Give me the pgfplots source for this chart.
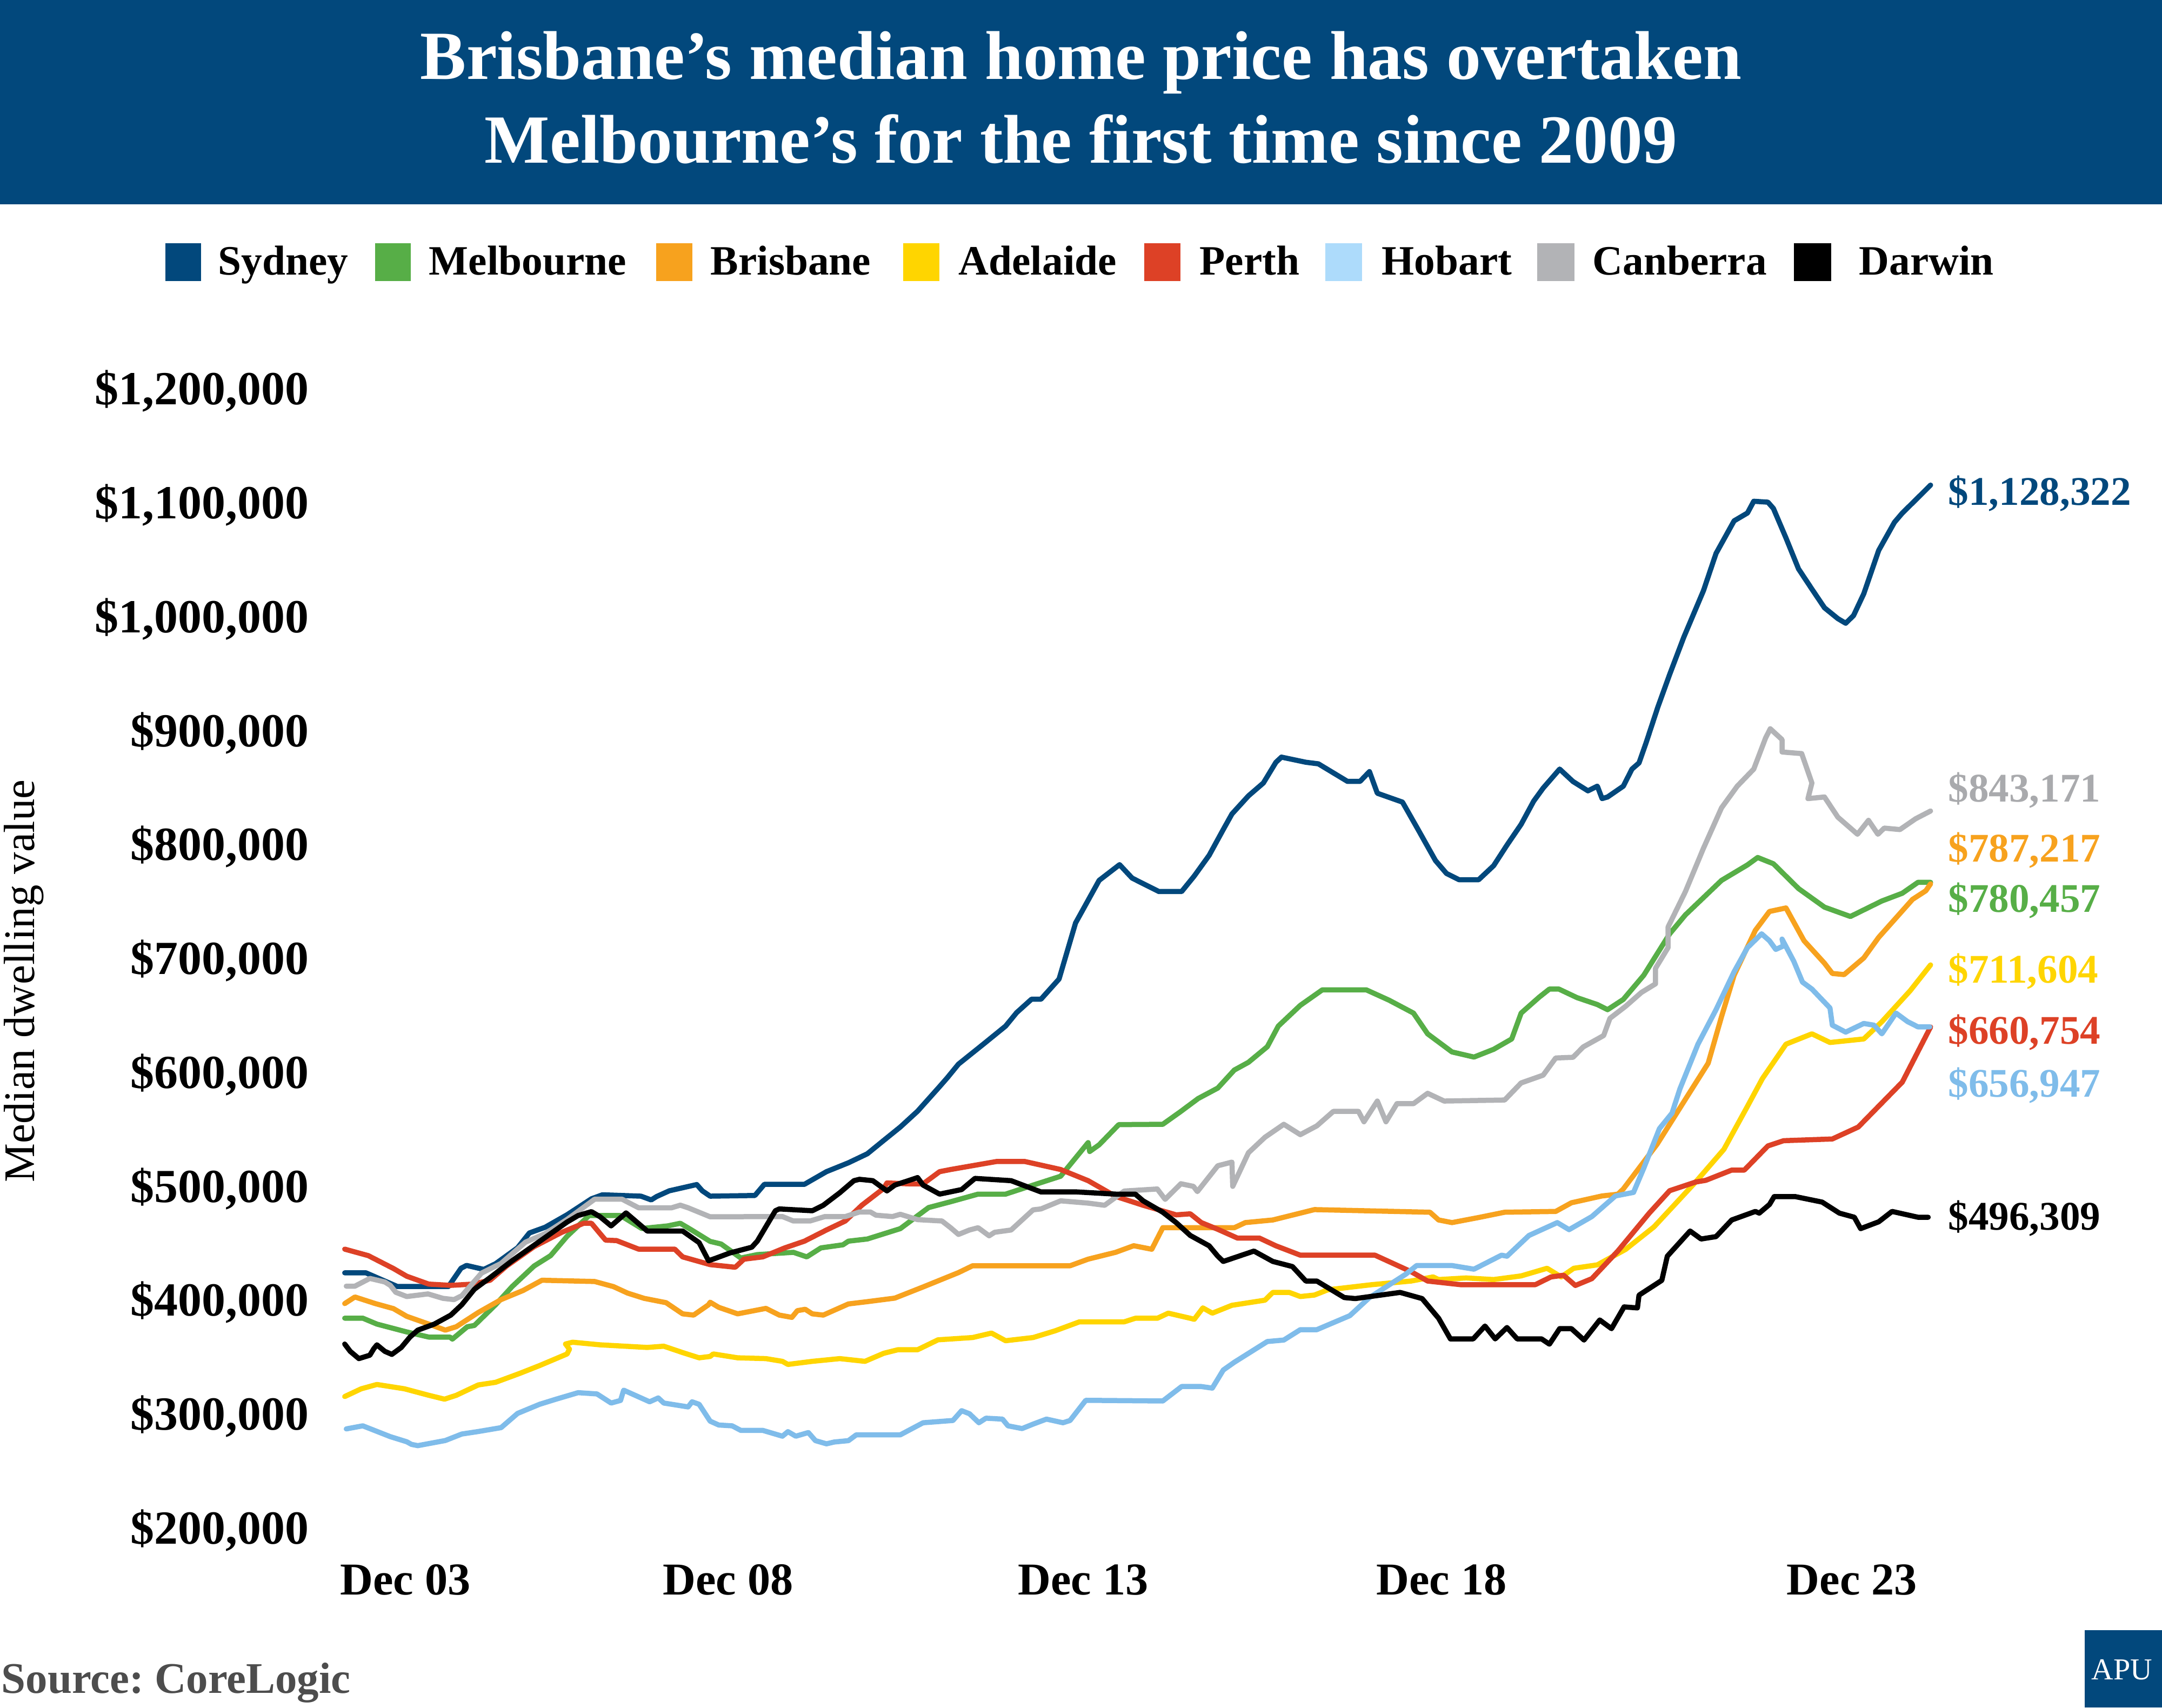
\documentclass[border=0pt]{standalone}
\usepackage{fontspec}
\setmainfont{Liberation Serif}
\usepackage{pgfplots}
\pgfplotsset{compat=1.18}
\definecolor{cSyd}{RGB}{2,72,124}
\definecolor{cMel}{RGB}{87,174,71}
\definecolor{cBri}{RGB}{247,162,30}
\definecolor{cAde}{RGB}{255,213,0}
\definecolor{cPer}{RGB}{221,65,38}
\definecolor{cHob}{RGB}{127,188,234}
\definecolor{cHobLeg}{RGB}{173,219,251}
\definecolor{cCan}{RGB}{178,179,182}
\definecolor{cCanTxt}{RGB}{169,170,173}
\definecolor{cDar}{RGB}{0,0,0}
\definecolor{srcgray}{RGB}{77,77,77}
\begin{document}
\frenchspacing
\begin{tikzpicture}[x=1mm,y=1mm]
\useasboundingbox (0,0) rectangle (400,315.9);
\fill[white] (0,0) rectangle (400,315.9);
\fill[cSyd] (0,278.1) rectangle (400,315.9);
\node[anchor=base,inner sep=0,text=white,font=\bfseries\fontsize{36.3}{40}\selectfont] at (200,301.2) {Brisbane’s median home price has overtaken};
\node[anchor=base,inner sep=0,text=white,font=\bfseries\fontsize{36.3}{40}\selectfont] at (200,285.7) {Melbourne’s for the first time since 2009};
% legend
\begin{scope}[every node/.style={anchor=base west,inner sep=0,font=\bfseries\fontsize{22}{26}\selectfont}]
\fill[cSyd] (30.6,263.9) rectangle (37.2,270.9); \node at (40.3,265.0) {Sydney};
\fill[cMel] (69.4,263.9) rectangle (76.0,270.9); \node at (79.3,265.0) {Melbourne};
\fill[cBri] (121.4,263.9) rectangle (128.1,270.9); \node at (131.4,265.0) {Brisbane};
\fill[cAde] (167.1,263.9) rectangle (173.8,270.9); \node at (177.3,265.0) {Adelaide};
\fill[cPer] (211.7,263.9) rectangle (218.4,270.9); \node at (221.9,265.0) {Perth};
\fill[cHobLeg] (245.2,263.9) rectangle (252.0,270.9); \node at (255.6,265.0) {Hobart};
\fill[cCan] (284.4,263.9) rectangle (291.3,270.9); \node at (294.6,265.0) {Canberra};
\fill[cDar] (331.9,263.9) rectangle (338.8,270.9); \node at (343.9,265.0) {Darwin};
\end{scope}
\node[rotate=90,anchor=base,inner sep=0,font=\fontsize{23}{27}\selectfont] at (6.3,134.4) {Median dwelling value};
\node[anchor=base west,inner sep=0,text=srcgray,font=\bfseries\fontsize{23}{27}\selectfont] at (0.2,2.7) {Source: CoreLogic};
\fill[cSyd] (385.7,0) rectangle (400,14.3);
\node[anchor=base,inner sep=0,text=white,font=\fontsize{16}{19}\selectfont] at (392.6,5.2) {APU};
\begin{axis}[at={(63.775mm,33.2mm)}, anchor=south west, scale only axis,
  width=293.4mm, height=210.76mm,
  xmin=0, xmax=20.18, ymin=200, ymax=1200, enlargelimits=false,
  axis line style={draw=none}, major tick length=0pt, clip=false,
  ytick={200,300,400,500,600,700,800,900,1000,1100,1200},
  yticklabels={{\$200,000},{\$300,000},{\$400,000},{\$500,000},{\$600,000},{\$700,000},{\$800,000},{\$900,000},{\$1,000,000},{\$1,100,000},{\$1,200,000}},
  yticklabel style={anchor=base east, inner sep=0pt, xshift=-6.6mm, yshift=-8.4pt, font=\bfseries\fontsize{25}{30}\selectfont},
  xtick={0.772,4.878,9.397,13.956,19.18},
  xticklabels={Dec 03,Dec 08,Dec 13,Dec 18,Dec 23},
  xticklabel style={anchor=base, inner sep=0pt, yshift=-12.3mm, font=\bfseries\fontsize{24}{28}\selectfont},
  every axis plot/.append style={line width=0.95mm, line join=round, line cap=round, no markers}]
% Sydney
\addplot[cSyd] coordinates {(0.0,424) (0.27,424) (0.67,412) (1.32,412) (1.40,420) (1.48,428) (1.55,430.5) (1.77,427) (1.92,432) (2.20,446) (2.35,459) (2.55,464) (2.83,475) (3.14,489) (3.28,492.5) (3.77,491.3) (3.90,488) (3.97,491) (4.13,496) (4.48,501.5) (4.55,496) (4.65,491.3) (5.22,491.9) (5.34,501.7) (5.85,501.7) (6.13,512.8) (6.41,520.6) (6.65,528.5) (6.86,540.3) (7.07,552) (7.29,565.9) (7.57,587.5) (7.67,595.4) (7.81,607.2) (8.13,624.9) (8.41,640.6) (8.55,652.4) (8.74,664.2) (8.86,664.2) (9.09,681.9) (9.30,731.1) (9.60,768.5) (9.86,782.3) (10.02,770.5) (10.36,758.7) (10.65,758.7) (10.81,772.3) (11.0,790.5) (11.18,813.2) (11.29,826.8) (11.5,842.7) (11.69,854) (11.85,872.2) (11.92,876.7) (12.23,872.2) (12.39,870.8) (12.76,855.4) (12.92,855.4) (13.04,864) (13.14,845) (13.46,837.2) (13.64,815.4) (13.88,785.9) (14.02,774.6) (14.18,769.1) (14.43,769.1) (14.62,781.4) (14.79,799.5) (14.97,817.7) (15.13,838.1) (15.25,849.5) (15.46,866.2) (15.63,855.3) (15.82,847.1) (15.94,851.2) (16.0,840.3) (16.07,841.7) (16.27,851.2) (16.38,866.2) (16.47,871.6) (16.56,889.3) (16.71,920.7) (16.86,949.3) (17.04,982) (17.29,1022.8) (17.45,1055.5) (17.68,1084.1) (17.85,1091) (17.93,1101.3) (18.11,1100.5) (18.18,1095) (18.34,1069.1) (18.5,1041.9) (18.67,1024.2) (18.83,1007.8) (19.0,998.3) (19.1,994.2) (19.2,1001) (19.33,1020.1) (19.52,1058.2) (19.72,1082.8) (19.82,1090.9) (20.02,1104.5) (20.18,1115.5)};
% Melbourne
\addplot[cMel] coordinates {(0.0,384.2) (0.23,384.2) (0.41,379) (0.79,372.1) (1.07,367.6) (1.34,367.6) (1.37,365.8) (1.56,376.7) (1.65,377.8) (1.92,396) (2.13,411.9) (2.41,430) (2.62,439.1) (2.83,456.1) (3.11,474.3) (3.51,474.3) (3.78,462.9) (4.11,465.2) (4.27,467.5) (4.41,461.8) (4.65,451.6) (4.79,449.3) (5.04,437) (5.25,440) (5.71,442) (5.88,438) (6.06,445.9) (6.34,448.6) (6.41,451.8) (6.65,453.7) (7.07,462.8) (7.43,481.3) (7.71,486.4) (8.06,493.1) (8.41,493.1) (8.76,501) (9.11,508.8) (9.46,538.3) (9.48,530.5) (9.6,536.4) (9.85,554.1) (10.41,554.4) (10.64,565.7) (10.86,577) (11.11,586.2) (11.32,602) (11.5,608.8) (11.74,622.5) (11.88,640.6) (12.16,658.8) (12.44,672.4) (13.0,672.4) (13.29,663.3) (13.6,652) (13.78,633.8) (14.09,617.9) (14.37,613.4) (14.62,620.2) (14.85,629.3) (14.97,652) (15.2,666) (15.33,673.1) (15.45,673.1) (15.68,665.6) (15.94,659.5) (16.07,655) (16.27,664) (16.53,685.2) (16.86,721.6) (17.06,738.2) (17.52,768.5) (17.85,782.1) (17.98,788.6) (18.18,783.1) (18.5,761.3) (18.83,745) (19.16,736.8) (19.56,750.4) (19.82,757.2) (20.02,766.8) (20.18,766.8)};
% Brisbane
\addplot[cBri] coordinates {(0.0,397) (0.13,402.8) (0.39,397) (0.62,392.6) (0.79,385.8) (1.07,379) (1.28,373.7) (1.42,376.7) (1.7,389.2) (1.99,400.5) (2.27,408.5) (2.51,417.5) (3.18,416.4) (3.42,411.9) (3.6,406.2) (3.81,401.6) (4.09,397.8) (4.3,388) (4.44,386.9) (4.63,396) (4.65,398.2) (4.76,393.7) (5.0,388) (5.36,392.8) (5.53,386.9) (5.69,384.9) (5.76,390.8) (5.86,392) (5.95,388) (6.09,386.9) (6.41,396.7) (6.65,398.7) (7.0,401.8) (7.36,411.6) (7.81,424.2) (7.99,430.2) (9.23,430.2) (9.46,436) (9.81,442) (10.04,447.8) (10.27,444.7) (10.41,463.6) (11.32,463.6) (11.46,468.1) (11.81,470.4) (12.34,479.5) (13.81,477.2) (13.92,470.4) (14.09,468.1) (14.44,472.7) (14.76,477.2) (15.41,477.9) (15.61,485.5) (16.0,491.5) (16.2,493) (16.27,497.6) (16.7,536.9) (17.06,576.3) (17.35,608) (17.52,648.9) (17.68,685.2) (17.95,724.6) (18.13,741.2) (18.34,744.3) (18.57,715.5) (18.83,695.8) (18.93,686.8) (19.08,685.8) (19.33,700.4) (19.52,718.5) (19.95,751.8) (20.12,759.4) (20.18,765.5)};
% Adelaide
\addplot[cAde] coordinates {(0.0,315.4) (0.21,322.2) (0.41,326) (0.76,322.2) (1.07,316.5) (1.27,313.1) (1.42,316.5) (1.7,325.6) (1.92,327.9) (2.23,335.8) (2.48,342.6) (2.83,352.8) (2.86,357) (2.81,361.5) (2.9,363.1) (3.25,360.8) (3.85,358.5) (4.06,359.6) (4.3,354) (4.51,349.4) (4.65,350.6) (4.69,352.8) (5.0,349.4) (5.36,348.7) (5.57,346.3) (5.64,343.6) (5.95,346.3) (6.3,348.7) (6.62,346.3) (6.86,353.4) (7.04,356.5) (7.29,356.5) (7.55,365.2) (7.99,367.2) (8.23,371.1) (8.41,364.4) (8.76,367.2) (9.04,373.1) (9.35,381) (9.92,381) (10.06,384.1) (10.34,384.1) (10.48,388.6) (10.76,384.1) (10.81,383.2) (10.92,393.2) (11.04,388.6) (11.29,395.5) (11.71,400) (11.81,406.8) (12.02,406.8) (12.16,403.2) (12.34,404.5) (12.51,409.1) (13.07,413.6) (13.57,416.8) (13.85,420.4) (13.92,418.1) (14.27,419.5) (14.62,418.1) (14.97,421.3) (15.3,428) (15.48,420.4) (15.64,428) (15.94,431) (16.3,444.6) (16.66,464.3) (17.19,503.7) (17.55,532.4) (17.85,570.2) (18.04,594.5) (18.34,624.7) (18.67,633.8) (18.9,626.2) (19.33,629.3) (19.56,644.4) (19.92,671.6) (20.18,694.3)};
% Perth
\addplot[cPer] coordinates {(0.0,444.8) (0.3,439.1) (0.62,427.8) (0.79,421) (1.07,414.1) (1.35,413) (1.63,414.1) (1.85,417.5) (2.06,430) (2.41,447) (2.76,459.5) (3.04,467.5) (3.14,467.5) (3.25,458.4) (3.32,452.7) (3.46,452.3) (3.74,444.8) (4.2,444.8) (4.3,438) (4.65,431.2) (4.97,428.9) (5.08,436) (5.32,438) (5.6,445.9) (5.85,451.8) (6.13,461.6) (6.37,469.5) (6.58,483.3) (6.86,498.2) (6.9,502.9) (7.18,502.1) (7.36,502.1) (7.57,512.8) (7.71,514.7) (8.3,521.8) (8.65,521.8) (9.11,514.7) (9.46,504.9) (9.81,491.1) (10.16,483.3) (10.58,474.9) (10.76,475.8) (10.9,468.1) (11.11,462.2) (11.36,454.5) (11.64,454.5) (11.85,447.7) (12.16,439.5) (13.11,439.5) (13.57,425) (13.78,416.8) (14.2,413.6) (15.15,413.6) (15.35,420.4) (15.51,421.9) (15.66,412.9) (15.87,418.9) (16.2,443.1) (16.6,476.4) (16.86,496.1) (17.19,503.7) (17.32,505.2) (17.65,514.2) (17.81,514.2) (18.11,535.4) (18.31,540) (18.93,541.5) (19.26,552) (19.82,591.4) (20.18,639.8)};
% Hobart
\addplot[cHob] coordinates {(0.02,287) (0.23,289.7) (0.58,280.2) (0.79,275.7) (0.85,273.4) (0.93,272.3) (1.28,276.8) (1.49,282.5) (1.7,284.7) (1.99,288.1) (2.2,300.6) (2.48,308.6) (2.69,313.1) (2.97,318.8) (3.21,317.7) (3.39,309.7) (3.51,312) (3.55,321) (3.88,310.8) (3.99,314.2) (4.06,309.7) (4.37,306.3) (4.42,310.8) (4.51,308.6) (4.65,293.8) (4.76,290.4) (4.93,289.7) (5.04,285.7) (5.32,285.7) (5.57,280.6) (5.64,284.6) (5.74,280.6) (5.9,283.8) (5.99,276.7) (6.13,273.9) (6.23,275.5) (6.41,276.7) (6.51,281.8) (7.07,281.8) (7.36,292.4) (7.74,294.4) (7.85,303) (7.95,300.3) (8.07,292.4) (8.16,296.4) (8.37,295.6) (8.44,289.7) (8.62,287.3) (8.76,291.2) (8.93,295.6) (9.14,292.4) (9.23,294.4) (9.43,312.1) (10.41,311.5) (10.65,324.2) (10.9,324.2) (11.04,322.8) (11.18,338.7) (11.32,345.5) (11.74,363.7) (11.95,365) (12.16,374.1) (12.37,374.1) (12.79,386.4) (13.04,402.3) (13.5,422.7) (13.64,430.4) (14.09,430.4) (14.37,427.2) (14.72,439.5) (14.79,438.6) (15.07,456.8) (15.43,468.1) (15.58,461.9) (15.87,473.4) (16.17,491.5) (16.4,494.6) (16.53,515.8) (16.73,550.6) (16.89,564.2) (16.99,585.4) (17.22,624.7) (17.45,655) (17.68,688.3) (17.85,709.5) (18.03,721.6) (18.13,715.5) (18.21,707.9) (18.31,711) (18.29,717) (18.44,697.4) (18.55,679.2) (18.67,673.1) (18.9,656.5) (18.93,641.4) (19.1,635.3) (19.33,642.9) (19.46,641.4) (19.56,633.8) (19.74,652) (19.89,644.4) (20.02,639.9) (20.17,639.9)};
% Canberra
\addplot[cCan] coordinates {(0.02,412.3) (0.13,412.3) (0.32,419.1) (0.51,416) (0.58,413) (0.65,406.9) (0.79,403.2) (1.06,405.5) (1.25,401.6) (1.39,400.5) (1.49,403.9) (1.74,423.7) (1.99,432.3) (2.3,450.9) (2.55,458.4) (2.83,470.9) (3.18,488.6) (3.53,488.6) (3.74,481.1) (4.16,481.1) (4.27,483.4) (4.37,481.1) (4.65,473.2) (5.57,473.4) (5.71,469.5) (5.92,469.5) (6.11,473.4) (6.37,473.4) (6.55,477.4) (6.69,477.4) (6.76,474.6) (6.97,473.4) (7.07,475.4) (7.29,470.7) (7.6,469.5) (7.71,463.6) (7.81,457.7) (7.95,461.6) (8.06,463.6) (8.2,456.5) (8.27,459.6) (8.48,461.6) (8.76,479.3) (8.86,480.1) (9.11,487.2) (9.46,485.2) (9.67,483.3) (9.92,495.8) (10.34,497.6) (10.44,488.5) (10.64,502.2) (10.8,499.9) (10.85,495.3) (11.11,518) (11.29,521.2) (11.3,499.9) (11.5,529.4) (11.71,543) (11.95,554.4) (12.16,545.3) (12.37,553) (12.58,565.7) (12.9,565.7) (12.97,556.6) (13.14,574.8) (13.25,556.6) (13.39,572.5) (13.6,572.5) (13.78,581.6) (13.99,574.8) (14.76,575.7) (14.97,590.7) (15.25,597.5) (15.41,612.6) (15.63,613.2) (15.76,622.3) (16.02,632.3) (16.1,647.4) (16.3,658) (16.5,670.1) (16.68,677.7) (16.68,691.3) (16.84,709.5) (16.84,727.6) (17.06,758.6) (17.29,796.7) (17.52,832.2) (17.72,851.2) (17.93,866.2) (18.08,893.4) (18.14,901.6) (18.29,892.1) (18.29,881.2) (18.54,879.8) (18.67,854) (18.62,840.3) (18.83,841.7) (19.0,824) (19.25,809) (19.39,821.2) (19.51,809) (19.59,814.4) (19.79,813.1) (19.99,822.6) (20.18,829.4)};
% Darwin
\addplot[cDar] coordinates {(0.0,361.5) (0.07,355.1) (0.18,348.7) (0.32,351.7) (0.37,357.4) (0.41,360.8) (0.51,355.1) (0.6,352.4) (0.72,358.5) (0.83,367.6) (0.93,373.7) (1.14,379) (1.35,386.9) (1.49,396) (1.65,409.6) (1.85,419.8) (2.13,434.6) (2.41,448.2) (2.62,458.4) (2.83,468.6) (2.97,474.3) (3.14,477.7) (3.25,473.2) (3.39,465.2) (3.58,476.6) (3.85,460.7) (4.3,460.7) (4.51,450.5) (4.63,434.6) (4.72,436.8) (4.9,441.4) (5.18,446.5) (5.25,451.8) (5.48,478.5) (5.53,480.1) (5.95,478.5) (6.09,483.3) (6.3,494.3) (6.48,504.9) (6.55,506.1) (6.72,504.9) (6.9,495.9) (7.0,501) (7.29,507.6) (7.36,501) (7.57,493.1) (7.85,497.1) (8.02,506.9) (8.48,504.9) (8.86,495) (9.32,495) (9.81,493.1) (10.06,493.1) (10.16,487.2) (10.41,477.2) (10.58,468.1) (10.76,456.8) (11.0,447.7) (11.11,438.6) (11.18,434) (11.57,443.1) (11.81,434) (12.06,429.5) (12.23,416.8) (12.37,416.8) (12.72,402.3) (12.86,401.4) (13.43,406.8) (13.71,401.4) (13.92,384.1) (14.07,366) (14.36,366) (14.51,377.3) (14.64,366) (14.79,376) (14.92,366) (15.23,366) (15.33,361.4) (15.46,375) (15.61,375) (15.77,365) (15.97,382.6) (16.12,375) (16.28,394.1) (16.45,393.2) (16.47,404.4) (16.76,417.4) (16.83,438.6) (17.12,460.7) (17.26,453.7) (17.45,455.8) (17.65,470.4) (17.95,477.9) (18.0,476.4) (18.13,484) (18.19,490.9) (18.46,490.9) (18.8,486.1) (19.02,476.4) (19.21,472.8) (19.29,462.8) (19.52,468.8) (19.69,477.9) (20.02,472.8) (20.15,472.8)};
% end labels
\begin{scope}[every node/.style={anchor=base west,inner sep=0,font=\bfseries\fontsize{21.4}{25}\selectfont}]
\node[text=cSyd] at (axis cs:20.40,1098.1) {\$1,128,322};
\node[text=cCanTxt] at (axis cs:20.40,837.6) {\$843,171};
\node[text=cBri] at (axis cs:20.40,784.8) {\$787,217};
\node[text=cMel] at (axis cs:20.40,740.8) {\$780,457};
\node[text=cAde] at (axis cs:20.40,678.6) {\$711,604};
\node[text=cPer] at (axis cs:20.40,625.0) {\$660,754};
\node[text=cHob] at (axis cs:20.40,578.6) {\$656,947};
\node[text=cDar] at (axis cs:20.40,461.5) {\$496,309};
\end{scope}
\end{axis}
\end{tikzpicture}
\end{document}
